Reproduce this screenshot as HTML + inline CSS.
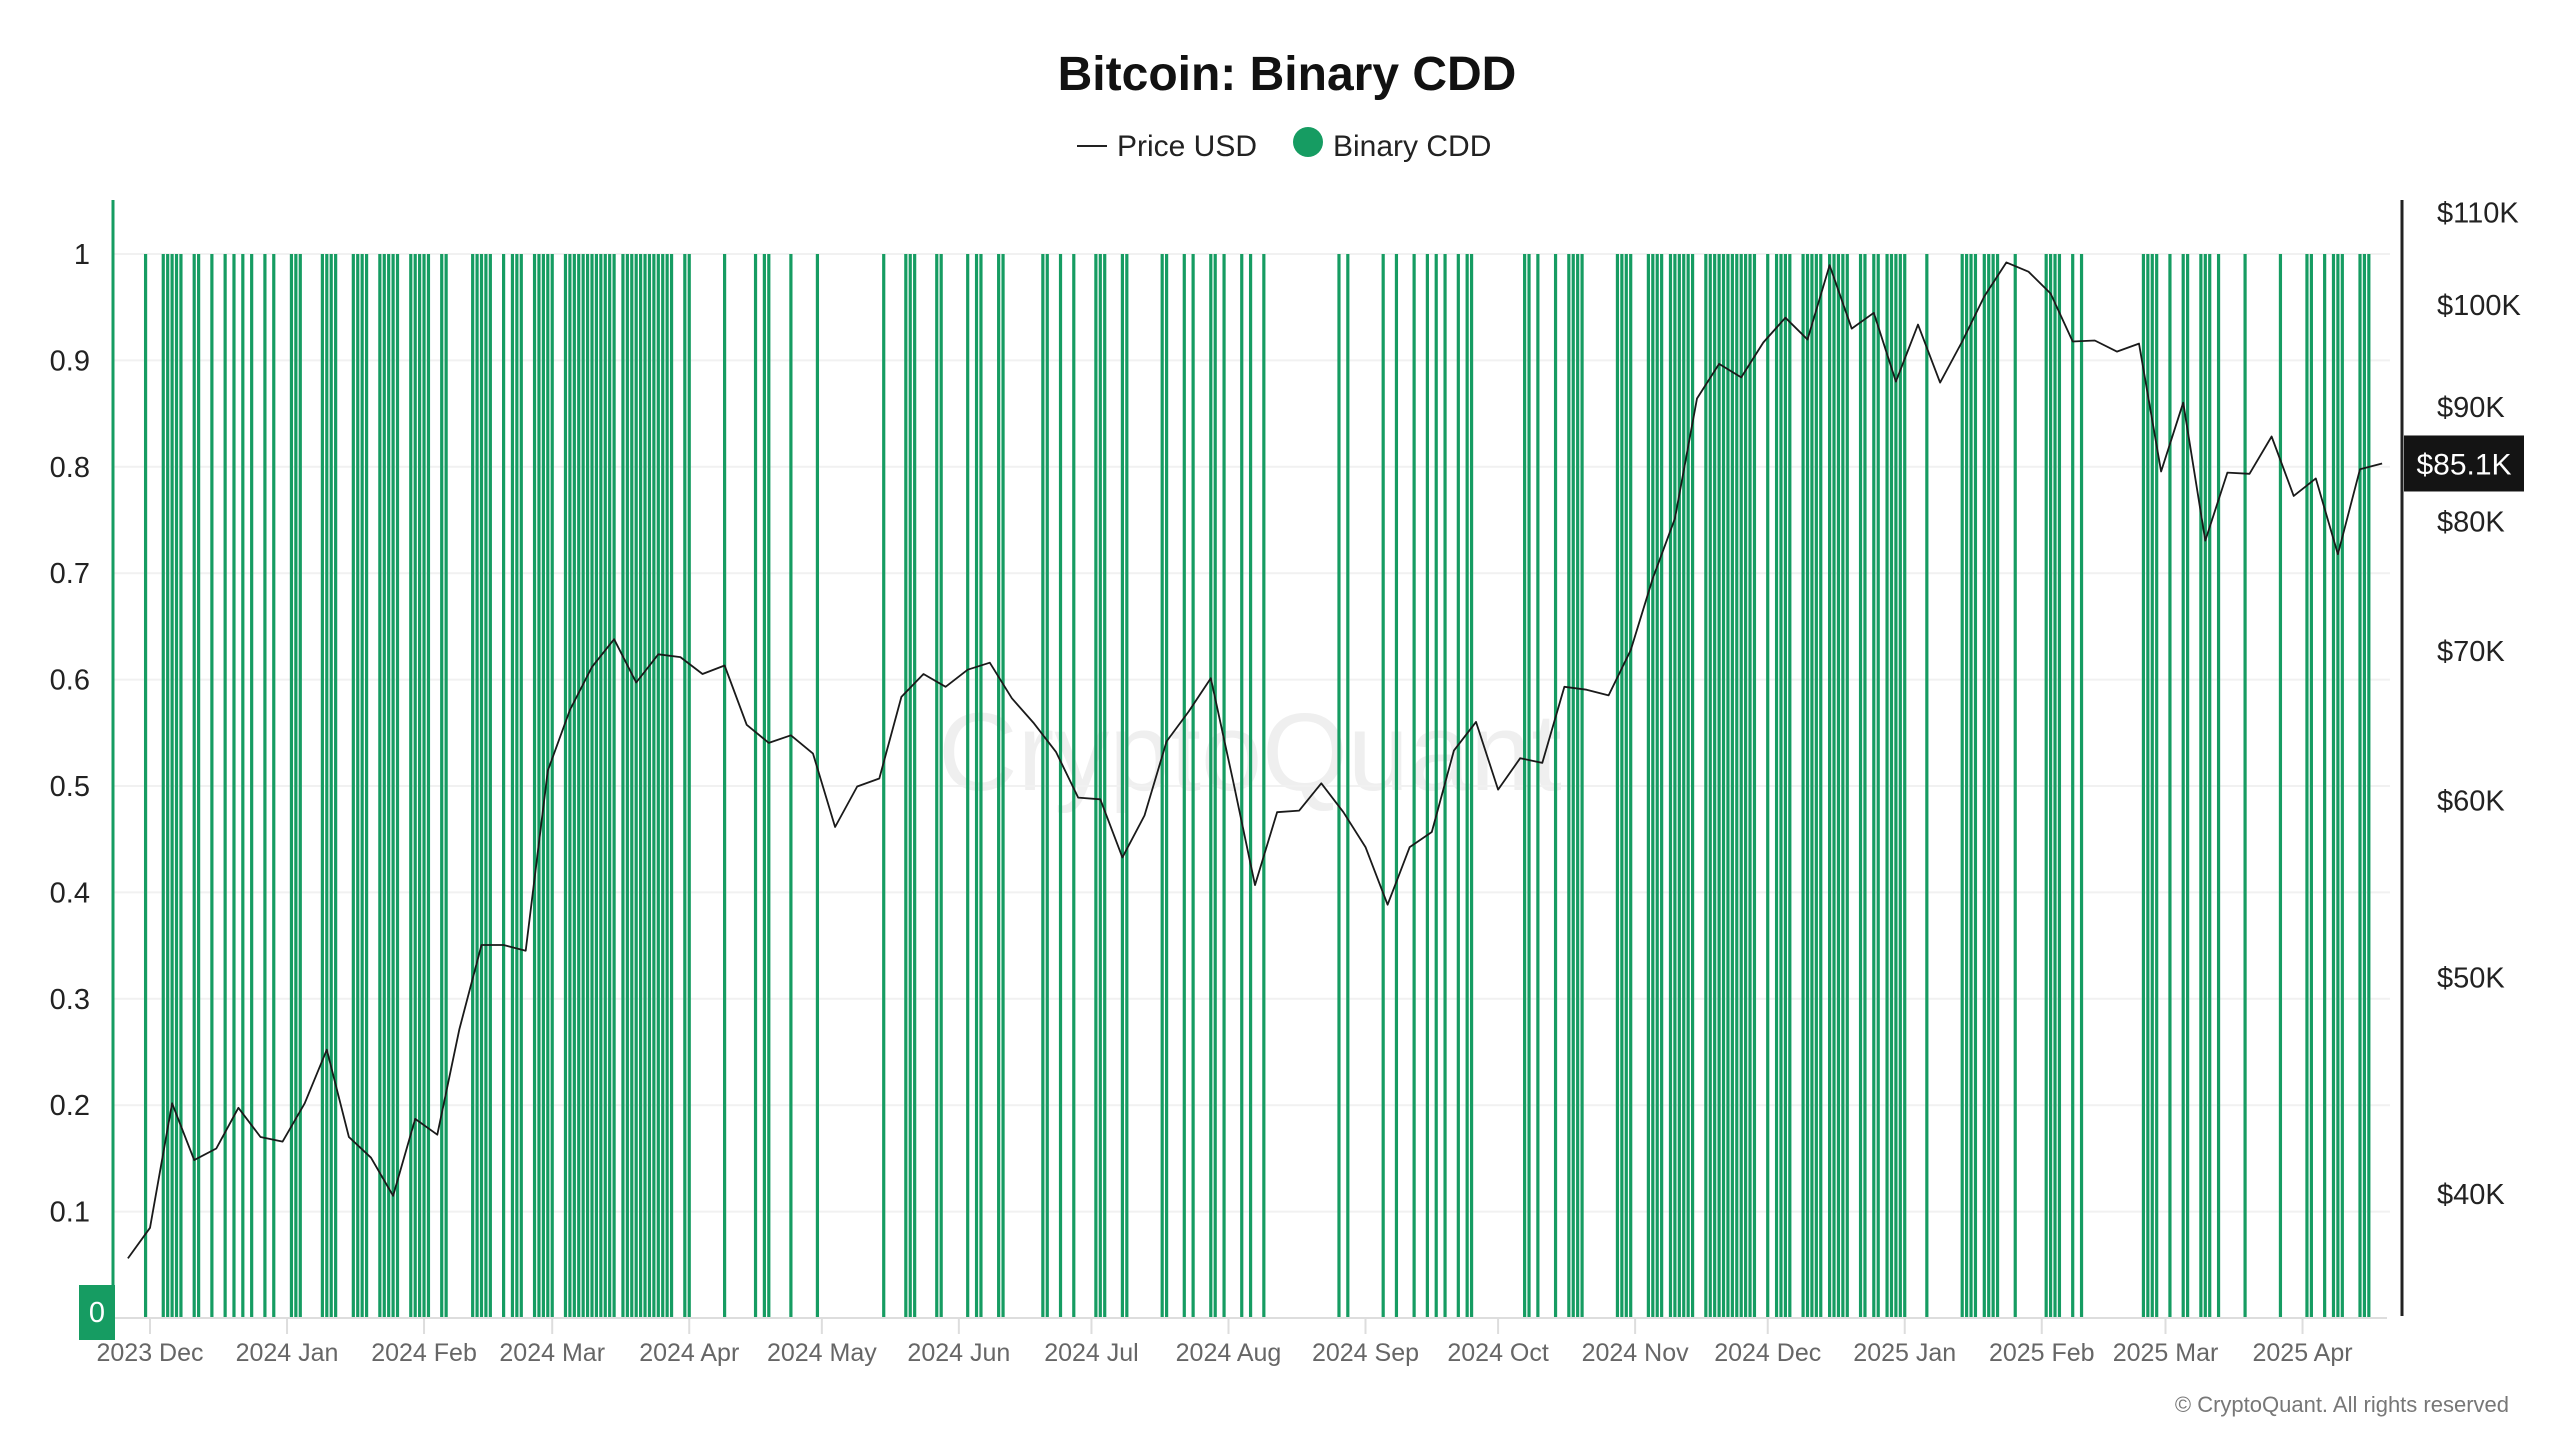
<!DOCTYPE html>
<html><head><meta charset="utf-8">
<style>
html,body{margin:0;padding:0;background:#fff;}
svg{display:block;font-family:"Liberation Sans",sans-serif;}
</style></head>
<body>
<svg id="chart" width="2560" height="1440" viewBox="0 0 2560 1440" xmlns="http://www.w3.org/2000/svg">
<rect width="2560" height="1440" fill="#fff"/>
<text x="1250" y="790" font-size="110" fill="#efefef" text-anchor="middle">CryptoQuant</text>
<text x="1287" y="90" font-size="48" font-weight="bold" text-anchor="middle" fill="#111">Bitcoin: Binary CDD</text>
<g>
<g><line x1="1077" y1="146" x2="1107" y2="146" stroke="#222" stroke-width="2"/><text x="1117" y="156" font-size="30" fill="#222">Price USD</text></g>
<g><circle cx="1308" cy="142" r="15" fill="#169c62"/><text x="1333" y="156" font-size="30" fill="#222">Binary CDD</text></g>
</g>
<g id="grid"></g>
<g id="bars"></g>
<g id="price"></g>
<g id="axes"></g>
<text x="2509" y="1412" font-size="22" fill="#777" text-anchor="end">© CryptoQuant. All rights reserved</text>
</svg>
<script>
// ---- data ----
const cddDays = [-1,3,4,5,6,7,10,11,14,17,19,21,23,26,28,32,33,34,39,40,41,42,46,47,48,49,52,53,54,55,56,59,60,61,62,63,66,67,73,74,75,76,77,80,82,83,84,87,88,89,90,91,94,95,96,97,98,99,100,101,102,103,104,105,107,108,109,110,111,112,113,114,115,116,117,118,121,122,130,137,139,140,145,151,166,171,172,173,178,179,185,187,188,192,193,202,203,206,209,214,215,216,220,221,229,230,234,236,240,241,243,247,249,252,269,271,279,282,286,289,291,293,296,298,299,311,312,314,318,321,322,323,324,332,333,334,335,339,340,341,342,344,345,346,347,348,349,352,353,354,355,356,357,358,359,360,361,362,363,366,368,369,370,371,374,375,376,377,378,380,381,382,383,384,387,388,390,391,393,394,395,396,397,402,410,411,412,413,415,416,417,418,422,429,430,431,432,435,437,451,452,453,454,457,460,461,464,465,466,468,474,482,488,489,492,494,495,496,500,501,502];
const priceStartDay = -5;
const priceStepDays = 5;
const prices = [37.5,38.7,44,41.5,42,43.8,42.5,42.3,44,46.5,42.5,41.6,40,43.3,42.6,47.5,51.8,51.8,51.5,62,66,69,71,67.9,69.9,69.7,68.5,69.1,65,63.8,64.3,63.1,58.5,61,61.5,66.9,68.5,67.6,68.8,69.3,66.8,65.1,63.2,60.3,60.2,56.7,59.2,63.9,65.9,68.2,61.4,55.1,59.4,59.5,61.2,59.4,57.3,54,57.3,58.2,63.3,65.2,60.8,62.8,62.5,67.6,67.4,67,70.2,75.6,80.4,91,94.3,93,96.4,98.9,96.7,104.4,97.8,99.4,92.6,98.2,92.5,96.5,101.1,104.7,103.7,101.4,96.5,96.6,95.5,96.3,84.4,90.6,78.6,84.3,84.2,87.5,82.3,83.8,77.5,84.6,85.1];
const leftTicks = [0,0.1,0.2,0.3,0.4,0.5,0.6,0.7,0.8,0.9,1];
const leftTickLabels = ["0","0.1","0.2","0.3","0.4","0.5","0.6","0.7","0.8","0.9","1"];
const rightTicks = [40,50,60,70,80,90,100,110];
const monthDays = [0,31,62,91,122,152,183,213,244,275,305,336,366,397,428,456,487];
const monthLabels = ["2023 Dec","2024 Jan","2024 Feb","2024 Mar","2024 Apr","2024 May","2024 Jun","2024 Jul","2024 Aug","2024 Sep","2024 Oct","2024 Nov","2024 Dec","2025 Jan","2025 Feb","2025 Mar","2025 Apr"];
const lastPriceLabel = "$85.1K";

// ---- scales ----
const NS="http://www.w3.org/2000/svg";
const plotLeft=113, plotRight=2402, plotTop=254, plotBottom=1318;
const xScale = d => 150 + d*4.42;
const yLeft = v => plotBottom - v*(plotBottom-plotTop);
const yRight = p => 4774 - 970*Math.log(p);
function mk(tag, attrs, parent){const e=document.createElementNS(NS,tag);for(const k in attrs)e.setAttribute(k,attrs[k]);parent.appendChild(e);return e;}

const grid=document.getElementById('grid');
leftTicks.forEach((v,i)=>{
  if(v===0) return;
  const l=mk('line',{x1:plotLeft,x2:2390,y1:yLeft(v),y2:yLeft(v),stroke:'#f1f1f1','stroke-width':2},grid);
  
  
});

const bars=document.getElementById('bars');
cddDays.forEach(d=>{
  const r=mk('rect',{x:xScale(d)-1.6,y:yLeft(1),width:3.2,height:yLeft(0)-yLeft(1),fill:'#169c62'},bars);
  
  
});

const pg=document.getElementById('price');
const pts=prices.map((p,i)=>xScale(priceStartDay+i*priceStepDays).toFixed(1)+','+yRight(p).toFixed(1)).join(' ');
const pl=mk('polyline',{points:pts,fill:'none',stroke:'#1a1a1a','stroke-width':1.8,'stroke-linejoin':'round'},pg);



const ax=document.getElementById('axes');
const base=mk('line',{x1:plotLeft,x2:2387,y1:plotBottom,y2:plotBottom,stroke:'#ddd','stroke-width':2},ax);


const la=mk('line',{x1:plotLeft,x2:plotLeft,y1:200,y2:plotBottom,stroke:'#169c62','stroke-width':3},ax);


const ra=mk('line',{x1:plotRight,x2:plotRight,y1:200,y2:1316,stroke:'#222','stroke-width':3},ax);



leftTicks.forEach((v,i)=>{
  if(v===0) return;
  const t=mk('text',{x:90,y:yLeft(v)+10,'font-size':29,fill:'#222','text-anchor':'end'},ax);
  t.textContent=leftTickLabels[i];
  
  
});
const zb=mk('rect',{x:79,y:1285,width:36,height:55,fill:'#169c62'},ax);


const zt=mk('text',{x:97,y:1322,'font-size':29,fill:'#fff','text-anchor':'middle'},ax);
zt.textContent=leftTickLabels[0];



rightTicks.forEach(p=>{
  const t=mk('text',{x:2437,y:yRight(p)+8,'font-size':29,fill:'#222'},ax);
  t.textContent='$'+p+'K';
  
  
});
const lastP=prices[prices.length-1];
const lb=mk('rect',{x:2404,y:yRight(lastP)-28,width:120,height:56,fill:'#141414'},ax);


const lt=mk('text',{x:2464,y:yRight(lastP)+11,'font-size':30,fill:'#fff','text-anchor':'middle'},ax);
lt.textContent=lastPriceLabel;



monthDays.forEach((d,i)=>{
  const x=xScale(d);
  const tk=mk('line',{x1:x,x2:x,y1:plotBottom,y2:plotBottom+16,stroke:'#ddd','stroke-width':2},ax);
  
  
  const t=mk('text',{x:x,y:1361,'font-size':25,fill:'#666','text-anchor':'middle'},ax);
  t.textContent=monthLabels[i];
  
  
});
</script>
</body></html>
